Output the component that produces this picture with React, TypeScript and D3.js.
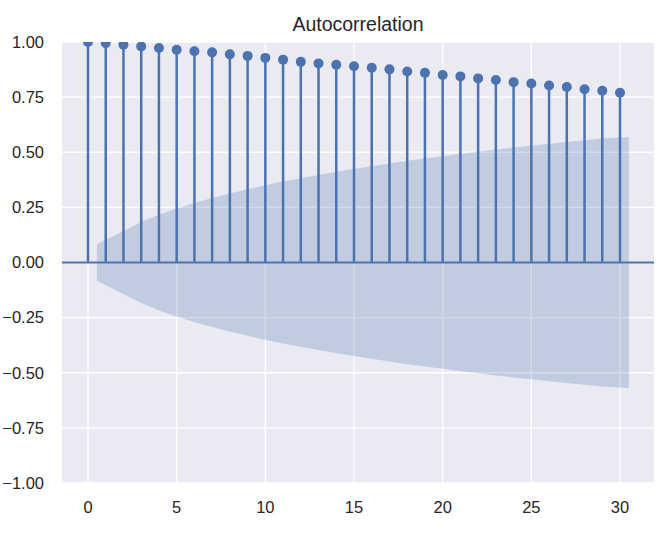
import React from "react";
import * as d3 from "d3";

const lags = [0,1,2,3,4,5,6,7,8,9,10,11,12,13,14,15,16,17,18,19,20,21,22,23,24,25,26,27,28,29,30];
const acfValues = [1.0,0.995,0.988,0.98,0.973,0.965,0.958,0.953,0.944,0.937,0.928,0.92,0.91,0.903,0.897,0.89,0.883,0.876,0.866,0.86,0.85,0.844,0.835,0.828,0.818,0.812,0.803,0.796,0.786,0.779,0.77];
// confidence band half-width for lags 1..30 (x positions: lag 1 -> 0.5, lag 30 -> 30.5)
const bandLags = [0.5,2,3,4,5,6,7,8,9,10,11,12,13,14,15,16,17,18,19,20,21,22,23,24,25,26,27,28,29,30.5];
const bandValues = [0.083,0.143,0.184,0.217,0.245,0.27,0.293,0.313,0.332,0.35,0.367,0.382,0.397,0.411,0.424,0.437,0.449,0.461,0.472,0.482,0.493,0.502,0.512,0.521,0.53,0.538,0.546,0.554,0.562,0.569];
const xTicks = [0,5,10,15,20,25,30];
const yTicks = [-1,-0.75,-0.5,-0.25,0,0.25,0.5,0.75,1];
const title = "Autocorrelation";

const W = 664, H = 546;
const L = 62, R = 654, T = 42, B = 483;
const BLUE = "#4c72b0";
const FONT = "'Liberation Sans', Arial, sans-serif";

export default function App() {
  const x = d3.scaleLinear().domain([-1.466, 31.917]).range([L, R]);
  const y = d3.scaleLinear().domain([-1, 1]).range([B, T]);
  const area = d3.area<number>()
    .x((_, i) => x(bandLags[i]))
    .y0((d) => y(-d))
    .y1((d) => y(d));
  const fmt = (v: number) => d3.format(".2f")(v).replace("-", "\u2212");
  return (
    <svg width={W} height={H} style={{ position: "absolute", left: 0, top: 0, background: "#fff" }}>
      <defs>
        <clipPath id="plotclip">
          <rect x={L} y={T} width={R - L} height={B - T} />
        </clipPath>
      </defs>
      <rect x={L} y={T} width={R - L} height={B - T} fill="#eaeaf2" />
      {xTicks.map((t) => (
        <line key={"gx" + t} x1={x(t)} x2={x(t)} y1={T} y2={B} stroke="#fff" strokeWidth={1.3} />
      ))}
      {yTicks.map((t) => (
        <line key={"gy" + t} x1={L} x2={R} y1={y(t)} y2={y(t)} stroke="#fff" strokeWidth={1.3} />
      ))}
      <g clipPath="url(#plotclip)">
        {lags.map((l, i) => (
          <line key={"s" + l} x1={x(l)} x2={x(l)} y1={y(0)} y2={y(acfValues[i])} stroke={BLUE} strokeWidth={2.5} />
        ))}
        <line x1={L} x2={R} y1={y(0)} y2={y(0)} stroke={BLUE} strokeWidth={2} />
        {lags.map((l, i) => (
          <circle key={"m" + l} cx={x(l)} cy={y(acfValues[i])} r={5} fill={BLUE} />
        ))}
        <path d={area(bandValues) || ""} fill={BLUE} fillOpacity={0.25} />
      </g>
      {yTicks.map((t) => (
        <text key={"ty" + t} x={44} y={y(t)} dy="0.35em" textAnchor="end" fontFamily={FONT} fontSize={16.5} fill="#262626">
          {fmt(t)}
        </text>
      ))}
      {xTicks.map((t) => (
        <text key={"tx" + t} x={x(t)} y={507} dy="0.35em" textAnchor="middle" fontFamily={FONT} fontSize={16.5} fill="#262626">
          {t}
        </text>
      ))}
      <text x={(L + R) / 2} y={31} textAnchor="middle" fontFamily={FONT} fontSize={19.5} fill="#262626">
        {title}
      </text>
    </svg>
  );
}
